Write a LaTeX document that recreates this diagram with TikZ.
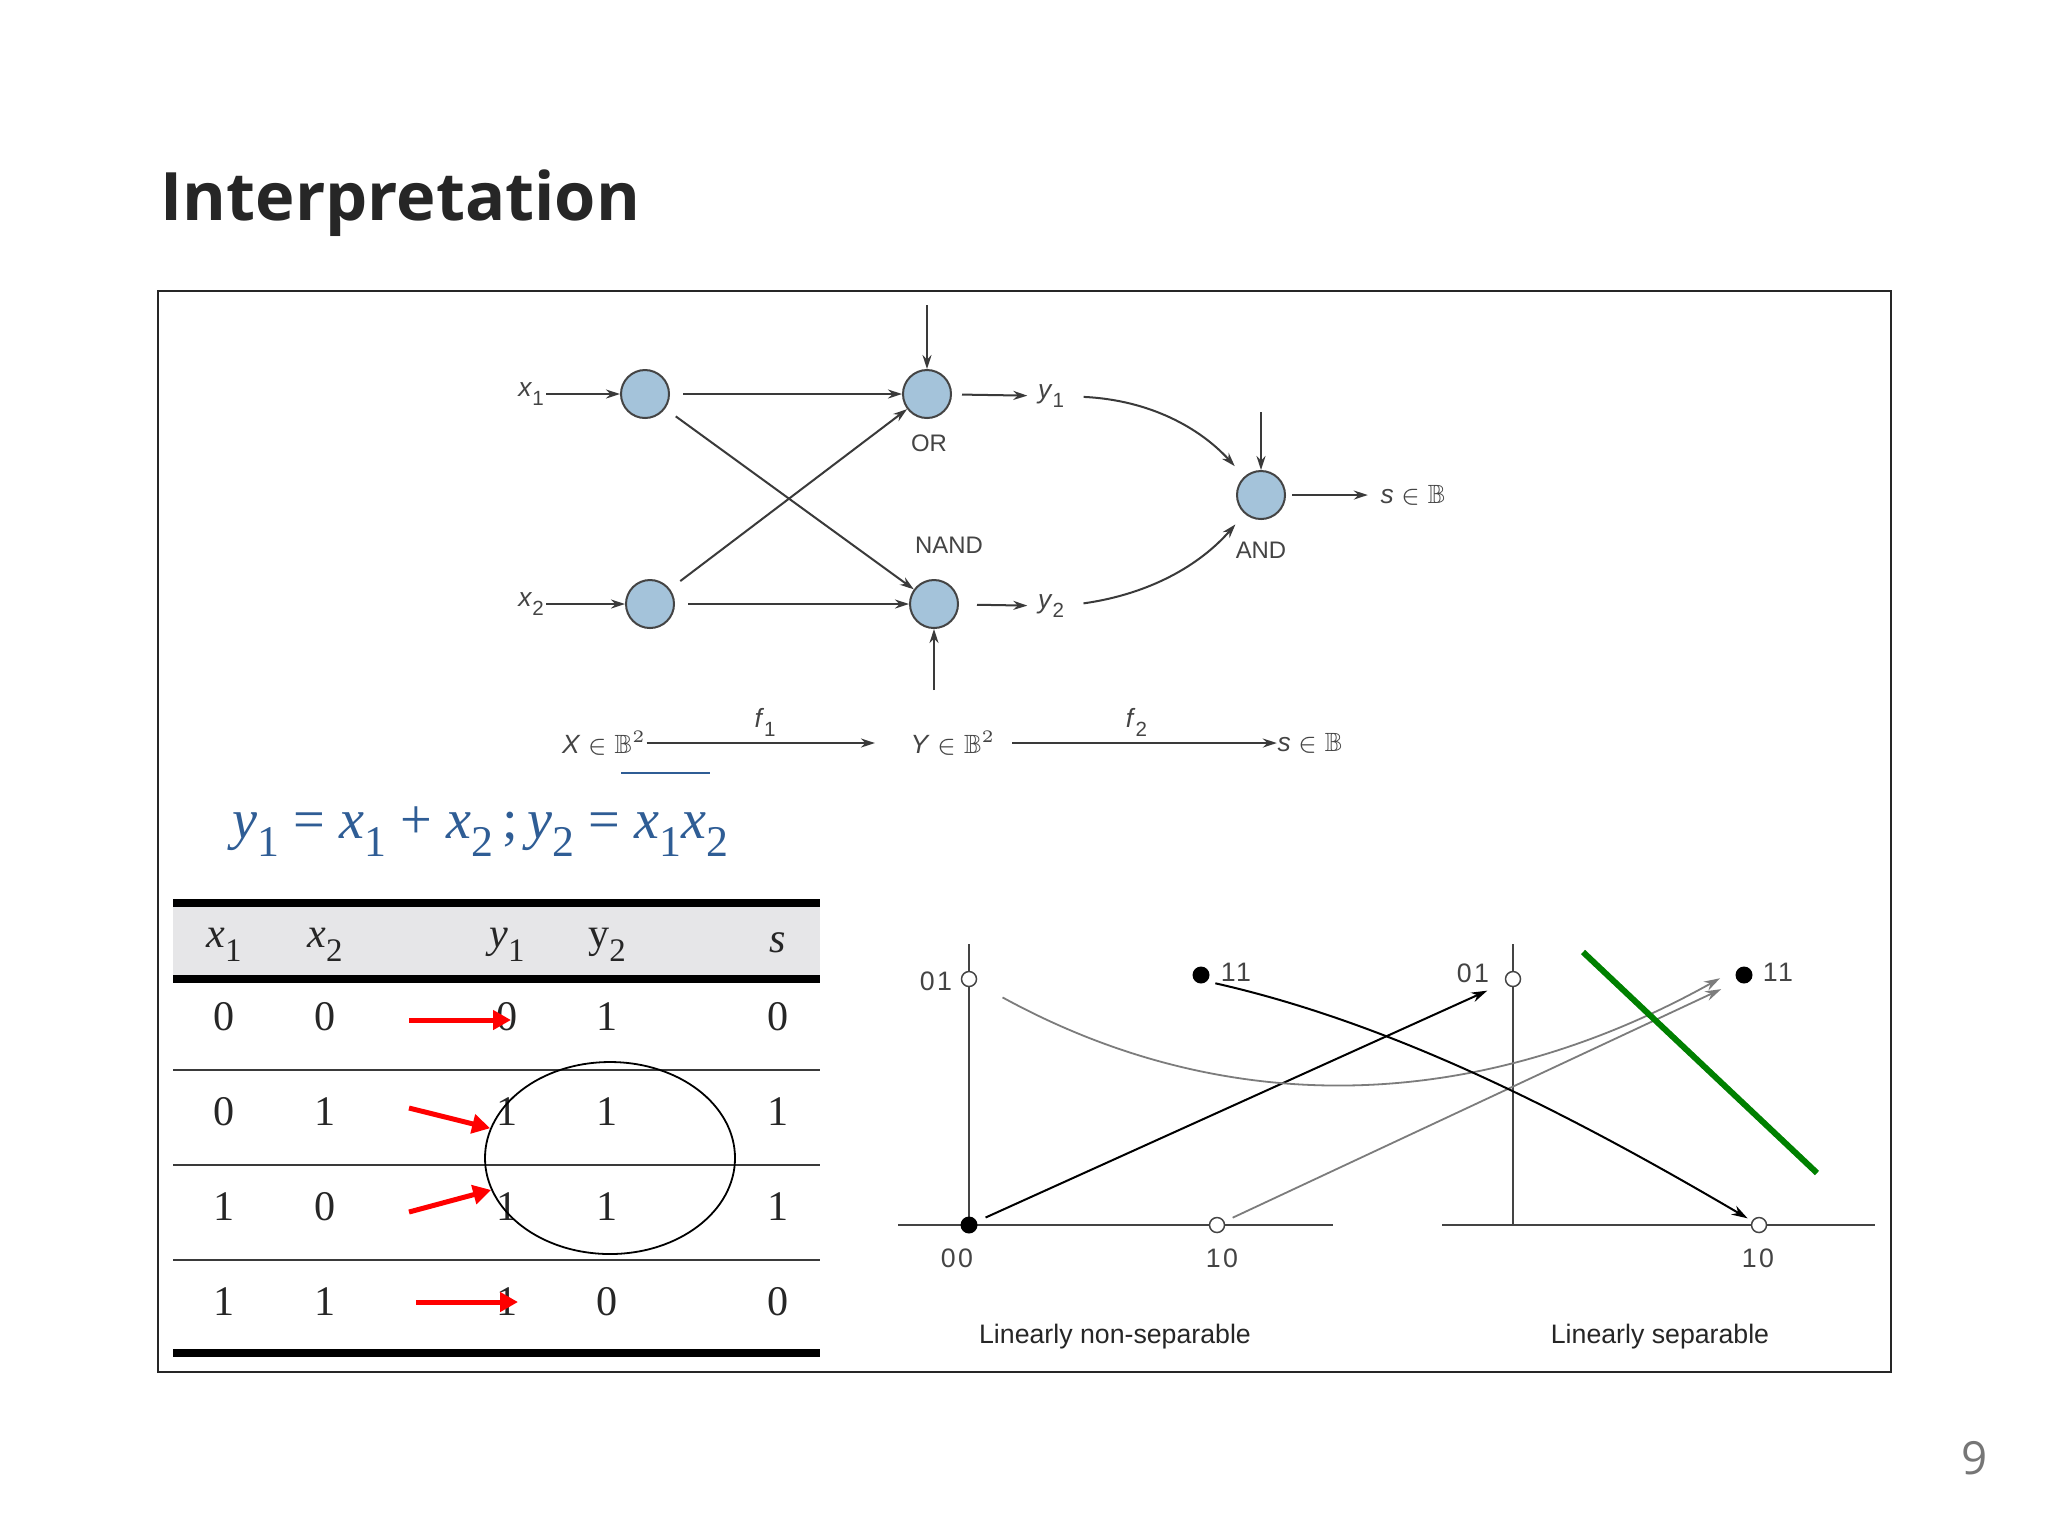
\documentclass[tikz,border=0pt]{standalone}
\usepackage{fontspec}
\usepackage{amssymb}
\usepackage{graphicx}
\setmainfont{Liberation Serif}
\setsansfont{Liberation Sans}
\newfontfamily\iptitlefont{Open Sans}
\newfontfamily\ipeqfont{Liberation Serif}
\newfontfamily\ippointfont[LetterSpace=9]{Liberation Sans}
\usetikzlibrary{arrows.meta,calc,shapes.geometric}
\definecolor{ipInk}{HTML}{262626}
\definecolor{ipGrey}{HTML}{444444}
\definecolor{ipLine}{HTML}{3A3A3A}
\definecolor{ipSoft}{HTML}{7C7C7C}
\definecolor{ipNeuron}{HTML}{A4C3DA}
\definecolor{ipBlue}{HTML}{2F5D95}
\definecolor{ipHead}{HTML}{E6E6E8}
\definecolor{ipRed}{HTML}{FF0000}
\definecolor{ipGreen}{HTML}{008000}
\definecolor{ipPage}{HTML}{767676}
\newcommand\ipsub[1]{\raisebox{-.32em}{\scalebox{.78}{#1}}}
\tikzset{
  ip canvas/.style={fill=white},
  ip frame/.style={draw=ipInk, line width=.22mm},
  ip title/.style={font=\iptitlefont\bfseries\fontsize{19pt}{23pt}\selectfont, text=ipInk, inner sep=0pt},
  ip page/.style={font=\iptitlefont\fontsize{13pt}{15pt}\selectfont, text=ipPage, inner sep=0pt},
  ip neuron/.style={circle, draw=ipGrey, fill=ipNeuron, line width=.2mm, minimum size=4.8mm, inner sep=0pt},
  ip wire/.style={
    draw=ipLine,
    line width=.2mm,
    -{Stealth[length=1.4mm,width=.9mm]}
  },
  ip net label/.style={font=\sffamily\fontsize{6.8pt}{8pt}\selectfont, text=ipGrey, inner sep=0pt},
  ip var/.style={font=\sffamily\fontsize{7.5pt}{9pt}\selectfont, text=ipGrey, inner sep=0pt},
  ip eq/.style={font=\ipeqfont\fontsize{16pt}{19pt}\selectfont, text=ipBlue, inner sep=0pt},
  ip eqbar/.style={draw=ipBlue, line width=.28mm},
  ip header/.style={fill=ipHead},
  ip rule thick/.style={draw=black, line width=.72mm},
  ip rule thin/.style={draw=ipLine, line width=.25mm},
  ip cell/.style={font=\rmfamily\fontsize{12pt}{14pt}\selectfont, text=ipInk, inner sep=0pt},
  ip hint/.style={
    draw=ipRed,
    line width=.5mm,
    -{Triangle[length=1.8mm,width=1.9mm]}
  },
  ip pair/.style={ellipse, draw=black, line width=.18mm, minimum width=25mm, minimum height=19.2mm, inner sep=0pt},
  ip axis/.style={draw=ipGrey, line width=.16mm},
  ip dot/.style={circle, fill=black, inner sep=0pt, minimum size=1.7mm},
  ip hole/.style={circle, draw=ipGrey, fill=white, line width=.15mm, inner sep=0pt, minimum size=1.5mm},
  ip point label/.style={font=\ippointfont\fontsize{7.6pt}{9pt}\selectfont, text=ipGrey, inner sep=0pt},
  ip map dark/.style={
    draw=black,
    line width=.2mm,
    -{Stealth[length=1.6mm,width=1mm]}
  },
  ip map soft/.style={
    draw=ipSoft,
    line width=.18mm,
    -{Stealth[length=1.6mm,width=1mm]}
  },
  ip separator/.style={draw=ipGreen, line width=.6mm},
  ip caption/.style={font=\sffamily\fontsize{7.6pt}{9pt}\selectfont, text=ipInk, inner sep=0pt}
}

\begin{document}
\begin{tikzpicture}[x=.1mm,y=-.1mm]
  \path[ip canvas] (0,0) rectangle (2048,1536);
  \useasboundingbox (0,0) rectangle (2048,1536);

  \node[ip title, anchor=base west] (title) at (160,220) {Interpretation};
  \node[ip page] (pagenum) at (1975,1458) {9};
  \draw[ip frame] (158,291) rectangle (1891,1372);

  % network
  \node[ip neuron] (in1) at (645,394) {};
  \node[ip neuron] (in2) at (650,604) {};
  \node[ip neuron] (or) at (927,394) {};
  \node[ip neuron] (nand) at (934,604) {};
  \node[ip neuron] (and) at (1261,495) {};
  \node[ip var] (x1) at (531,394) {\textit{x}\ipsub{1}};
  \node[ip var] (x2) at (531,604) {\textit{x}\ipsub{2}};
  \node[ip var] (y1) at (1051,396) {\textit{y}\ipsub{1}};
  \node[ip var] (y2) at (1051,606) {\textit{y}\ipsub{2}};
  \node[ip var] (sout) at (1413,495) {\textit{s} $\in\mathbb{B}$};
  \node[ip net label] (orlab) at (929,443) {OR};
  \node[ip net label] (nandlab) at (949,545) {NAND};
  \node[ip net label] (andlab) at (1261,550) {AND};
  \coordinate (orbias) at (927,305);
  \coordinate (nandbias) at (934,690);
  \coordinate (andbias) at (1261,412);

  \draw[ip wire, shorten <=.2mm] (x1) -- (in1);
  \draw[ip wire, shorten <=.2mm] (x2) -- (in2);
  \draw[ip wire, shorten <=1.3mm] (in1) -- (or);
  \draw[ip wire, shorten <=1.3mm] (in1) -- (nand);
  \draw[ip wire, shorten <=1.3mm] (in2) -- (or);
  \draw[ip wire, shorten <=1.3mm] (in2) -- (nand);
  \draw[ip wire] (orbias) -- (or);
  \draw[ip wire] (nandbias) -- (nand);
  \draw[ip wire, shorten <=1mm, shorten >=1mm] (or) -- (y1);
  \draw[ip wire, shorten <=1.8mm, shorten >=1mm] (nand) -- (y2);
  \draw[ip wire, shorten <=1.9mm, shorten >=1.4mm] (y1.east) .. controls (1150,400) and (1200,428) .. (and);
  \draw[ip wire, shorten <=1.9mm, shorten >=1.4mm] (y2.east) .. controls (1150,594) and (1200,565) .. (and);
  \draw[ip wire] (andbias) -- (and);
  \draw[ip wire, shorten <=.6mm, shorten >=1.2mm] (and) -- (sout);

  % mappings
  \node[ip var] (X) at (604,743) {\textit{X} $\in\mathbb{B}^2$};
  \node[ip var] (Y) at (953,743) {\textit{Y} $\in\mathbb{B}^2$};
  \node[ip var] (S) at (1310,743) {\textit{s} $\in\mathbb{B}$};
  \draw[ip wire, shorten >=3.5mm] (X) -- (Y)
    node[ip var, pos=.45, above=.6mm] (f1) {\textit{f}\ipsub{1}};
  \draw[ip wire, shorten <=1.6mm] (Y) -- (S)
    node[ip var, pos=.5, above=.6mm] (f2) {\textit{f}\ipsub{2}};

  \node[ip eq, anchor=base west] (eq) at (232,838)
    {\textit{y}\ipsub{1} = \textit{x}\ipsub{1} + \textit{x}\ipsub{2}\,;\,\textit{y}\ipsub{2} = \textit{x}\ipsub{1}\textit{x}\ipsub{2}};
  \draw[ip eqbar] (621,773) -- (710,773);

  % truth table
  \fill[ip header] (173,903) rectangle (820,979);
  \draw[ip rule thick] (173,903) -- (820,903);
  \draw[ip rule thick] (173,979) -- (820,979);
  \draw[ip rule thin] (173,1070) -- (820,1070);
  \draw[ip rule thin] (173,1165) -- (820,1165);
  \draw[ip rule thin] (173,1260) -- (820,1260);
  \draw[ip rule thick] (173,1353) -- (820,1353);
  \node[ip cell] (hx1) at (224,945) {\textit{x}\ipsub{1}};
  \node[ip cell] (hx2) at (325,945) {\textit{x}\ipsub{2}};
  \node[ip cell] (hy1) at (507,945) {\textit{y}\ipsub{1}};
  \node[ip cell] (hy2) at (607,945) {y\ipsub{2}};
  \node[ip cell] (hs) at (778,943) {\textit{s}};
  \foreach \a/\b/\c/\d/\e [count=\r] in {0/0/0/1/0, 0/1/1/1/1, 1/0/1/1/1, 1/1/1/0/0}{
    \node[ip cell] (c\r-1) at (224,{1017+95*(\r-1)}) {\a};
    \node[ip cell] (c\r-2) at (325,{1017+95*(\r-1)}) {\b};
    \node[ip cell] (c\r-3) at (507,{1017+95*(\r-1)}) {\c};
    \node[ip cell] (c\r-4) at (607,{1017+95*(\r-1)}) {\d};
    \node[ip cell] (c\r-5) at (778,{1017+95*(\r-1)}) {\e};
  }
  \node[ip pair] (pair) at (610,1158) {};
  \coordinate (h1) at (409,1020);
  \coordinate (h1end) at (511,1020);
  \coordinate (h2) at (409,1108);
  \coordinate (h3) at (409,1212);
  \coordinate (h4) at (416,1302);
  \coordinate (h4end) at (518,1302);
  \draw[ip hint] (h1) -- (h1end);
  \draw[ip hint] (h2) -- (pair);
  \draw[ip hint] (h3) -- (pair);
  \draw[ip hint] (h4) -- (h4end);

  % input space and hidden space
  \draw[ip axis] (969,944) -- (969,1225);
  \draw[ip axis] (898,1225) -- (1333,1225);
  \draw[ip axis] (1513,944) -- (1513,1225);
  \draw[ip axis] (1442,1225) -- (1875,1225);
  \node[ip dot] (p00) at (969,1225) {};
  \node[ip hole] (p01) at (969,979) {};
  \node[ip hole] (p10) at (1217,1225) {};
  \node[ip dot] (p11) at (1201,975) {};
  \node[ip hole] (q01) at (1513,979) {};
  \node[ip hole] (q10) at (1759,1225) {};
  \node[ip dot] (q11) at (1744,975) {};
  \node[ip point label] (l00) at (957,1258) {00};
  \node[ip point label] (l01) at (936,981) {01};
  \node[ip point label] (l10) at (1222,1258) {10};
  \node[ip point label] (l11) at (1236,972) {11};
  \node[ip point label] (m01) at (1473,973) {01};
  \node[ip point label] (m10) at (1758,1258) {10};
  \node[ip point label] (m11) at (1778,972) {11};

  \draw[ip map dark, shorten <=.9mm, shorten >=2mm] (p00) -- (q01);
  \draw[ip map soft, shorten <=3mm, shorten >=2mm] (p01) .. controls (1230,1122) and (1480,1112) .. (q11.north west);
  \draw[ip map soft, shorten <=.9mm, shorten >=1.8mm] (p10) -- (q11.south west);
  \draw[ip map dark, shorten <=.8mm, shorten >=.5mm] (p11.south east) .. controls (1400,1025) and (1580,1120) .. (q10);
  \draw[ip separator] (1583,952) -- (1817,1173);

  \node[ip caption] (cap1) at (1115,1337) {Linearly non-separable};
  \node[ip caption] (cap2) at (1660,1337) {Linearly separable};
\end{tikzpicture}
\end{document}
